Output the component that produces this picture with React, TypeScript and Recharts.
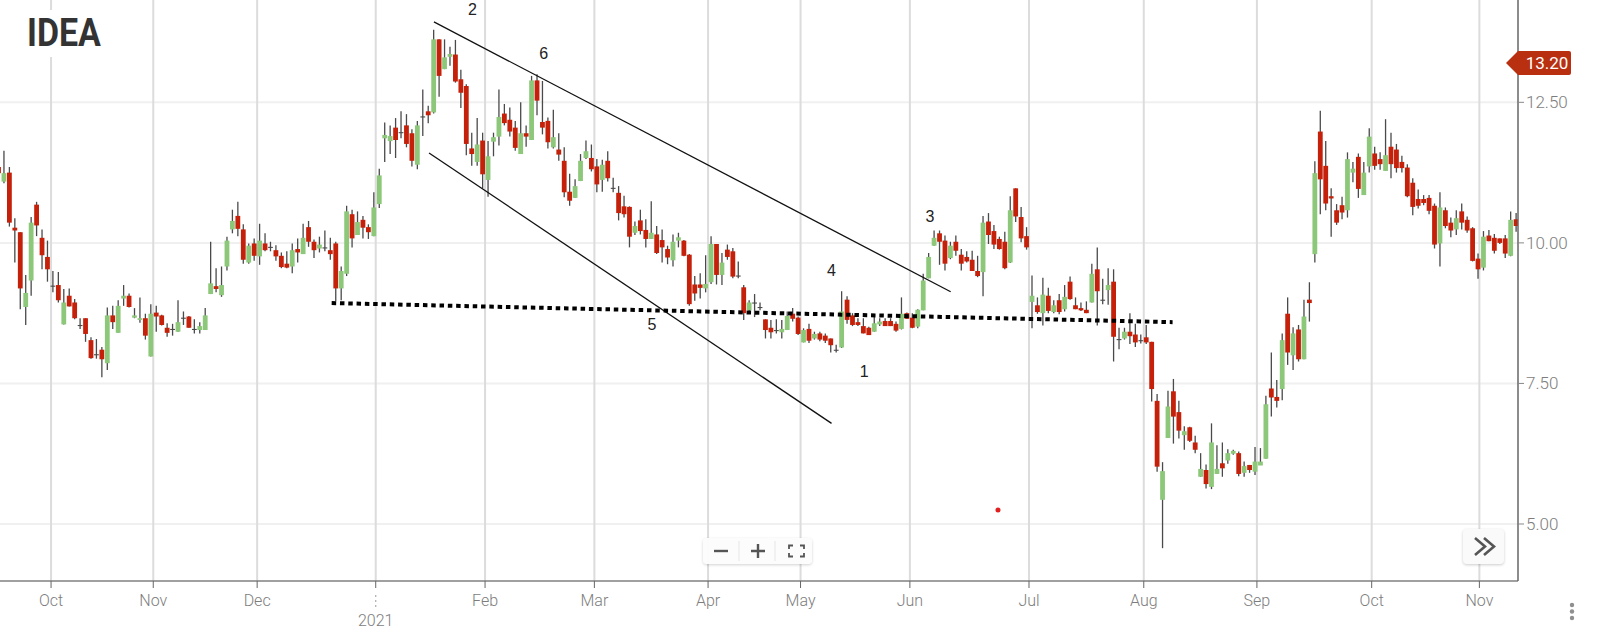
import React from "react";
import {
  ComposedChart, Bar, XAxis, YAxis, CartesianGrid, ReferenceLine, ReferenceDot,
} from "recharts";

const highs = [
  11.38,11.64,11.35,10.44,10.19,9.43,10.46,10.73,10.24,10.04,
  9.50,9.48,9.18,9.19,9.00,8.66,8.66,8.32,8.29,8.15,
  8.85,8.88,8.98,9.25,9.10,8.84,9.03,8.74,8.91,8.88,
  8.72,8.57,8.56,8.98,8.78,8.70,8.64,8.59,8.84,10.02,
  9.55,9.58,10.11,10.59,10.73,10.33,9.99,10.08,10.34,10.17,
  10.02,9.96,9.83,9.85,9.99,10.08,10.34,10.39,10.06,10.11,
  10.22,10.09,10.02,9.58,10.66,10.59,10.56,10.48,10.33,10.90,
  11.32,12.14,12.09,12.22,12.34,12.29,12.02,12.17,12.73,12.44,
  13.79,13.62,13.62,13.49,13.61,13.08,12.82,11.96,12.22,11.96,
  11.81,11.96,12.73,12.47,12.41,12.17,12.50,12.09,12.97,13.00,
  12.88,12.23,12.37,11.95,11.70,11.23,11.13,11.58,11.82,11.75,
  11.49,11.48,11.63,11.16,11.01,10.84,10.65,10.38,10.59,10.42,
  10.74,10.30,10.24,9.95,10.15,10.18,10.05,9.80,9.41,9.46,
  9.78,10.12,9.98,9.82,9.97,9.91,9.67,9.25,8.98,9.09,
  8.94,8.64,8.63,8.64,8.63,8.78,8.84,8.69,8.48,8.56,
  8.42,8.42,8.39,8.30,8.19,9.14,9.05,8.75,8.66,8.66,
  8.51,8.69,8.66,8.66,8.66,8.60,9.03,8.76,8.75,8.82,
  9.45,9.82,10.22,10.22,10.13,10.02,10.13,9.89,9.85,9.86,
  9.77,10.48,10.53,10.32,10.11,10.20,10.83,10.97,10.64,10.28,
  9.42,9.03,9.38,9.20,8.98,9.09,9.25,9.40,9.03,8.94,
  8.96,9.63,9.92,9.36,9.55,9.53,8.49,8.49,8.75,8.56,
  8.37,8.54,8.24,7.31,6.10,7.37,7.58,7.19,6.74,6.73,
  6.57,6.26,6.06,6.79,6.40,6.45,6.33,6.32,6.29,6.11,
  6.05,6.37,6.35,7.28,8.05,7.56,8.39,9.03,8.50,8.54,
  8.99,9.30,11.45,12.35,11.81,10.97,10.69,10.82,11.61,11.44,
  11.59,11.44,12.04,11.71,11.61,12.20,11.96,11.76,11.55,11.40,
  11.15,10.95,10.85,10.85,10.70,10.90,10.63,10.45,10.58,10.70,
  10.47,10.28,9.81,10.21,10.23,10.16,10.08,10.14,10.56,10.53,
];

const lows = [
  11.20,11.06,10.29,9.65,8.82,8.54,9.06,10.12,9.53,9.31,
  9.12,8.94,8.55,8.87,8.64,8.47,8.24,7.94,7.94,7.61,
  7.74,8.47,8.40,8.88,8.85,8.66,8.58,8.28,7.98,8.42,
  8.53,8.33,8.35,8.42,8.54,8.49,8.39,8.39,8.45,9.09,
  9.12,9.04,9.51,10.17,10.12,9.63,9.63,9.68,9.61,9.85,
  9.85,9.68,9.55,9.55,9.46,9.65,9.80,9.93,9.73,9.83,
  9.85,9.70,8.96,8.98,9.41,9.92,10.14,10.08,10.07,10.12,
  10.62,11.44,11.58,11.51,11.86,11.70,11.36,11.31,11.90,12.13,
  12.30,12.60,13.09,13.15,12.85,12.40,11.56,11.37,11.37,10.97,
  10.82,11.54,11.73,12.09,11.89,11.64,11.58,11.71,11.83,12.27,
  11.93,11.68,11.68,11.46,10.81,10.66,10.80,11.10,11.49,11.27,
  10.90,10.91,11.09,10.90,10.40,10.45,9.92,10.14,10.15,9.92,
  10.07,9.80,9.65,9.62,9.58,9.92,9.76,8.88,8.97,9.01,
  9.12,9.27,9.26,9.25,9.70,9.37,9.37,8.63,8.75,8.68,
  8.80,8.30,8.30,8.39,8.30,8.45,8.60,8.36,8.23,8.22,
  8.28,8.25,8.22,8.05,8.05,8.13,8.56,8.52,8.52,8.39,
  8.36,8.42,8.52,8.52,8.52,8.42,8.46,8.65,8.48,8.48,
  8.80,9.37,9.95,9.61,9.51,9.71,9.77,9.51,9.65,9.50,
  9.39,9.05,9.98,9.89,9.88,9.53,9.64,10.37,10.01,9.88,
  8.48,8.74,8.53,8.75,8.75,8.73,8.78,8.99,8.82,8.79,
  8.75,8.94,8.53,8.91,8.90,7.89,8.11,8.28,8.20,8.15,
  8.21,8.20,7.18,5.93,4.57,6.53,6.43,6.52,6.32,6.46,
  6.26,5.84,5.63,5.62,5.89,5.84,6.07,6.23,5.85,5.84,
  5.91,5.87,6.05,6.16,6.91,7.07,7.20,7.83,7.74,7.89,
  7.93,8.60,9.65,10.51,10.58,10.11,10.32,10.42,10.45,11.08,
  10.80,10.85,11.25,11.30,11.30,11.28,11.15,11.25,11.25,10.81,
  10.49,10.61,10.67,10.51,9.90,9.58,10.26,10.10,10.14,10.24,
  10.18,9.67,9.36,9.51,10.03,9.81,9.98,9.73,9.76,10.20,
];

const opens = [
  11.35,11.09,11.25,10.27,10.19,8.86,9.33,10.68,10.09,9.75,
  9.23,9.25,8.55,9.06,8.94,8.53,8.66,8.27,8.01,8.10,
  7.86,8.71,8.40,9.01,9.06,8.67,8.63,8.66,7.98,8.76,
  8.71,8.49,8.46,8.42,8.66,8.69,8.46,8.45,8.45,9.09,
  9.23,9.07,9.58,10.24,10.48,10.24,9.65,9.99,9.76,9.99,
  9.92,9.87,9.77,9.63,9.58,9.89,9.80,10.28,10.02,9.90,
  9.91,9.87,9.99,9.19,9.45,10.51,10.14,10.41,10.28,10.12,
  10.69,11.86,11.81,12.05,11.96,12.09,11.95,11.39,12.24,12.34,
  12.32,13.62,13.09,13.31,13.35,12.91,12.79,11.68,11.44,11.82,
  11.12,11.80,11.89,12.30,12.19,12.05,11.58,11.95,11.83,12.89,
  12.15,12.17,11.70,11.66,11.46,10.91,10.80,11.10,11.51,11.51,
  11.36,11.12,11.46,10.97,10.89,10.65,10.64,10.18,10.40,10.23,
  10.07,10.15,10.05,9.89,9.69,10.04,10.04,9.79,9.26,9.26,
  9.19,9.30,9.98,9.43,9.88,9.85,9.41,9.21,8.80,8.93,
  8.85,8.64,8.49,8.44,8.41,8.45,8.74,8.67,8.23,8.47,
  8.30,8.39,8.35,8.30,8.09,8.14,8.99,8.71,8.59,8.52,
  8.49,8.42,8.55,8.61,8.61,8.56,8.47,8.75,8.67,8.51,
  8.80,9.37,9.95,10.17,10.04,9.73,10.02,9.79,9.75,9.70,
  9.50,9.48,10.38,10.21,10.07,10.02,9.65,10.97,10.46,10.12,
  8.95,8.89,8.75,9.06,8.77,8.98,8.82,9.31,8.89,8.84,
  8.81,8.94,9.53,8.98,9.16,9.31,8.28,8.30,8.42,8.37,
  8.26,8.32,8.24,7.19,5.43,6.53,7.36,6.99,6.58,6.72,
  6.45,5.84,5.96,5.66,5.89,6.08,6.13,6.25,6.26,5.91,
  6.05,5.93,6.04,6.16,7.41,7.26,7.40,8.74,8.00,8.46,
  7.93,8.99,9.80,11.98,11.37,10.83,10.58,10.67,10.58,11.25,
  11.53,10.85,11.36,11.59,11.49,11.28,11.71,11.66,11.44,11.34,
  11.07,10.78,10.78,10.80,10.66,9.99,10.58,10.36,10.24,10.56,
  10.41,10.26,9.72,9.56,10.13,10.09,10.08,10.08,9.77,10.42,
];

const closes = [
  11.24,11.24,10.36,10.22,9.19,9.11,10.36,10.31,9.78,9.53,
  9.22,8.98,8.94,8.87,8.66,8.52,8.38,7.95,8.00,7.93,
  8.71,8.59,8.88,9.06,8.86,8.71,8.66,8.35,8.74,8.69,
  8.54,8.40,8.45,8.59,8.65,8.49,8.45,8.52,8.71,9.28,
  9.18,9.25,10.04,10.39,10.25,9.70,9.95,9.77,10.04,9.87,
  9.91,9.76,9.57,9.56,9.87,9.83,10.09,10.02,9.87,9.97,
  9.90,9.80,9.19,9.50,10.56,10.08,10.37,10.27,10.19,10.63,
  11.20,11.92,11.90,11.83,11.95,11.76,11.46,12.09,12.23,12.27,
  13.62,12.97,13.30,13.36,12.87,12.67,11.76,11.58,11.75,11.22,
  11.54,11.88,12.24,12.13,11.98,11.69,11.95,11.89,12.89,12.53,
  12.05,11.79,11.88,11.57,10.90,10.75,11.01,11.46,11.63,11.31,
  11.04,11.39,11.15,10.96,10.53,10.51,10.11,10.30,10.21,10.07,
  10.18,9.82,9.92,9.74,10.02,10.10,9.77,8.91,9.10,9.20,
  9.27,9.98,9.43,9.65,9.75,9.40,9.40,8.75,8.94,8.92,
  8.84,8.45,8.41,8.43,8.47,8.70,8.65,8.38,8.45,8.26,
  8.38,8.28,8.26,8.18,8.08,8.78,8.63,8.54,8.54,8.39,
  8.36,8.57,8.60,8.52,8.52,8.44,8.74,8.65,8.49,8.81,
  9.33,9.75,10.09,10.02,9.63,9.95,9.86,9.63,9.67,9.50,
  9.41,10.36,10.14,9.97,9.89,9.55,10.58,10.47,10.08,9.92,
  9.06,8.77,9.08,8.79,8.89,8.77,9.04,9.00,8.82,8.80,
  8.75,9.45,9.14,8.97,9.25,8.33,8.27,8.42,8.34,8.23,
  8.25,8.23,7.40,6.02,5.94,7.09,6.91,6.66,6.65,6.48,
  6.32,5.98,5.71,6.45,5.98,5.99,6.26,6.30,5.89,6.03,
  5.96,6.11,6.11,7.13,7.25,7.19,8.27,8.05,8.39,7.93,
  8.69,8.93,11.24,11.13,10.70,10.79,10.36,10.54,11.49,11.32,
  10.96,11.25,11.89,11.37,11.40,11.56,11.40,11.33,11.33,10.83,
  10.64,10.66,10.71,10.57,9.97,10.63,10.30,10.22,10.44,10.36,
  10.22,9.68,9.53,10.11,10.03,9.86,10.00,9.81,10.41,10.30,
];

const monthTicks = [9.71, 28.5, 47.6, 69.4, 89.5, 109.6, 130.5, 147.5, 167.6, 189.5, 210.6, 231.4, 252.5, 272.3];
const monthLabels = ["Oct", "Nov", "Dec", "2021", "Feb", "Mar", "Apr", "May", "Jun", "Jul", "Aug", "Sep", "Oct", "Nov"];
const priceTicks = [5, 7.5, 10, 12.5];

const upperTrend = [{ x: 80.1, y: 13.93 }, { x: 175.1, y: 9.13 }];
const lowerTrend = [{ x: 79.2, y: 11.6 }, { x: 153.2, y: 6.79 }];
const supportLine = [{ x: 61.3, y: 8.93 }, { x: 215.9, y: 8.59 }];
const waveLabels = [
  { text: "2", x: 87.2, y: 14.15 },
  { text: "6", x: 100.3, y: 13.38 },
  { text: "3", x: 171.3, y: 10.48 },
  { text: "4", x: 153.2, y: 9.52 },
  { text: "5", x: 120.2, y: 8.56 },
  { text: "1", x: 159.2, y: 7.72 },
];
const lastPrice = 13.2;
const strayDot = { x: 183.8, y: 5.25 };

const candles = highs.map((high, i) => ({
  idx: i, high, low: lows[i], open: opens[i], close: closes[i],
}));

const UP = "#8DC87A";
const DOWN = "#C4200A";
const WICK = "#4a4a4a";

function Candle(props: any) {
  const { x, y, width, height, payload } = props;
  const top = Math.min(y, y + height);
  const unit = Math.abs(height) / (payload.high - payload.low);
  const cx = x + width / 2;
  const py = (v: number) => top + (payload.high - v) * unit;
  const bodyTop = py(Math.max(payload.open, payload.close));
  const bodyH = Math.abs(payload.open - payload.close) * unit;
  const doji = bodyH < 1.2;
  return (
    <g>
      <line x1={cx} x2={cx} y1={top} y2={top + Math.abs(height)} stroke={WICK} strokeWidth={1.3} />
      {doji ? (
        <line x1={cx - 2.4} x2={cx + 2.4} y1={bodyTop} y2={bodyTop} stroke={WICK} strokeWidth={1.1} />
      ) : (
        <rect x={cx - 2.4} y={bodyTop} width={4.8} height={bodyH} fill={payload.close > payload.open ? UP : DOWN} />
      )}
    </g>
  );
}

function MonthTick(props: any) {
  const { x, y, payload } = props;
  const label = monthLabels[monthTicks.indexOf(payload.value)];
  const style = { fontFamily: "Roboto", fontWeight: 300, fontSize: 16, fill: "#7d7d7d" };
  if (label === "2021") {
    return (
      <g>
        <circle cx={x} cy={y + 6} r={0.8} fill="#888" />
        <circle cx={x} cy={y + 11} r={0.8} fill="#888" />
        <circle cx={x} cy={y + 16} r={0.8} fill="#888" />
        <text x={x} y={y + 36} textAnchor="middle" {...style}>{label}</text>
      </g>
    );
  }
  return <text x={x} y={y + 16} textAnchor="middle" {...style}>{label}</text>;
}

function PriceTag(props: any) {
  const { cx, cy } = props;
  return (
    <g>
      <path
        d={`M${cx - 12} ${cy} L${cx} ${cy - 12} H${cx + 51} a2 2 0 0 1 2 2 V${cy + 10} a2 2 0 0 1 -2 2 H${cx} Z`}
        fill="#B8300F"
      />
      <text x={cx + 29} y={cy + 6} textAnchor="middle" fontFamily="Roboto" fontSize={17} fill="#fff">
        {lastPrice.toFixed(2)}
      </text>
    </g>
  );
}

const iconStroke = "#555";

function ZoomControls() {
  return (
    <div style={{
      position: "absolute", left: 703, top: 538, width: 109, height: 26, background: "rgba(252,252,252,.95)",
      borderRadius: 4, boxShadow: "0 1px 3px rgba(0,0,0,.18)",
    }}>
      <svg width={109} height={26}>
        <line x1={36} x2={36} y1={3} y2={23} stroke="#e6e6e6" />
        <line x1={72} x2={72} y1={3} y2={23} stroke="#e6e6e6" />
        <line x1={11} x2={25} y1={13} y2={13} stroke={iconStroke} strokeWidth={2.4} />
        <path d="M48 13 H62 M55 6 V20" stroke={iconStroke} strokeWidth={2.4} fill="none" />
        <path d="M86 11 V7.5 H90 M97 7.5 H101 V11 M101 15 V18.5 H97 M90 18.5 H86 V15" stroke={iconStroke} strokeWidth={1.8} fill="none" />
      </svg>
    </div>
  );
}

export default function App() {
  return (
    <div style={{ position: "fixed", left: 0, top: 0, width: 1600, height: 634, background: "#fff", overflow: "hidden" }}>
      <ComposedChart
        width={1600}
        height={634}
        data={candles}
        margin={{ top: 0, right: 0, bottom: 0, left: 0 }}
      >
        <CartesianGrid horizontal vertical={false} syncWithTicks stroke="#f0f0f0" strokeWidth={2} />
        <CartesianGrid horizontal={false} vertical syncWithTicks stroke="#dcdcdc" strokeWidth={2} />
        <XAxis
          type="number"
          dataKey="idx"
          domain={[0.325, 279.4]}
          allowDataOverflow
          ticks={monthTicks}
          interval={0}
          height={53}
          axisLine={{ stroke: "#808080", strokeWidth: 1.5 }}
          tickLine={{ stroke: "#666" }}
          tickSize={7}
          tick={<MonthTick />}
        />
        <YAxis
          orientation="right"
          type="number"
          domain={[3.986, 14.32]}
          ticks={priceTicks}
          interval={0}
          width={82}
          axisLine={{ stroke: "#666", strokeWidth: 1.5 }}
          tickLine={{ stroke: "#888" }}
          tickSize={6}
          tickFormatter={(v: number) => v.toFixed(2)}
          tick={{ fontFamily: "Roboto", fontWeight: 300, fontSize: 17, fill: "#7d7d7d" }}
        />
        <Bar
          dataKey={(d: any) => [d.low, d.high]}
          barSize={4}
          shape={<Candle />}
          isAnimationActive={false}
        />
        <ReferenceLine segment={upperTrend} stroke="#111" strokeWidth={1.3} ifOverflow="visible" />
        <ReferenceLine segment={lowerTrend} stroke="#111" strokeWidth={1.3} ifOverflow="visible" />
        <ReferenceLine segment={supportLine} stroke="#000" strokeWidth={4} strokeDasharray="4.5 3.8" ifOverflow="visible" />
        {waveLabels.map((w) => (
          <ReferenceDot
            key={w.text}
            x={w.x}
            y={w.y}
            r={0}
            stroke="none"
            label={{ value: w.text, position: "center", fontFamily: "Liberation Sans", fontSize: 16, fill: "#222" }}
          />
        ))}
        <ReferenceDot x={strayDot.x} y={strayDot.y} r={2.5} fill="#E02020" stroke="none" />
        <ReferenceDot x={279.4} y={lastPrice} ifOverflow="visible" shape={<PriceTag />} />
      </ComposedChart>

      <div style={{
        position: "absolute", left: 20, top: 10, width: 92, height: 47, background: "#fff",
      }}>
        <div style={{
          position: "absolute", left: 7, top: 1, fontFamily: "Roboto", fontWeight: 700, fontSize: 39,
          lineHeight: "45px", color: "#333", transform: "scaleX(.87)", transformOrigin: "left top",
        }}>IDEA</div>
      </div>

      <ZoomControls />

      <div style={{
        position: "absolute", left: 1463, top: 529, width: 41, height: 35, background: "#fafafa",
        borderRadius: 4, boxShadow: "0 1px 3px rgba(0,0,0,.2)",
      }}>
        <svg width={41} height={35}>
          <path d="M12 9 L22 17.5 L12 26 M21 9 L31 17.5 L21 26" stroke="#555" strokeWidth={2.6} fill="none" />
        </svg>
      </div>

      <svg width={8} height={22} style={{ position: "absolute", left: 1568, top: 602 }}>
        <circle cx={4} cy={3} r={2.2} fill="#8f8f8f" />
        <circle cx={4} cy={9.5} r={2.2} fill="#8f8f8f" />
        <circle cx={4} cy={16} r={2.2} fill="#8f8f8f" />
      </svg>
    </div>
  );
}
